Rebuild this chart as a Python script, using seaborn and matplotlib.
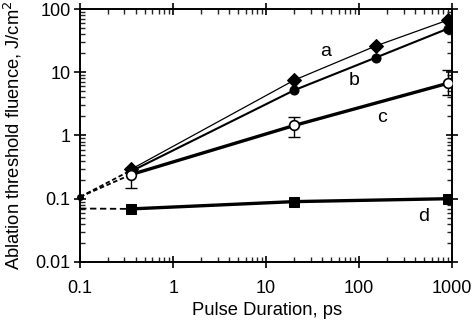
import numpy as np
import pandas as pd
import matplotlib
matplotlib.use("Agg")
import matplotlib.pyplot as plt
from matplotlib.ticker import LogLocator, NullFormatter, FixedLocator, FixedFormatter
import seaborn as sns

# Pulse durations (ps) and ablation threshold fluences (J/cm^2)
pulse_a = [0.35, 20, 150, 900]
fluence_a = [0.29, 7.5, 26, 67]

pulse_b = [0.35, 20, 150, 900]
fluence_b = [0.27, 5.2, 17, 49]

pulse_c = [0.35, 20, 900]
fluence_c = [0.24, 1.44, 6.7]
err_low_c = [0.15, 0.96, 4.3]
err_high_c = [0.31, 1.93, 10.7]

pulse_d = [0.35, 20, 900]
fluence_d = [0.069, 0.09, 0.1]

# Extrapolation towards short pulses
extrap_x = [0.1, 0.35]
extrap_ab = [0.107, 0.28]
extrap_c = [0.107, 0.24]
extrap_d = [0.07, 0.069]

curve_labels = ["a", "b", "c", "d"]
label_x = [44, 88, 177, 488]
label_y = [21.5, 7.5, 1.93, 0.052]

x_ticks = [0.1, 1, 10, 100, 1000]
x_ticklabels = ["0.1", "1", "10", "100", "1000"]
y_ticks = [0.01, 0.1, 1, 10, 100]
y_ticklabels = ["0.01", "0.1", "1", "10", "100"]

sns.set_theme(style="ticks")
plt.rcParams["font.family"] = ["Liberation Sans", "DejaVu Sans"]

fig = plt.figure(figsize=(4.74, 3.23), dpi=100)
ax = fig.add_axes([0.169, 0.189, 0.785, 0.783])

df_a = pd.DataFrame({"x": pulse_a, "y": fluence_a})
df_b = pd.DataFrame({"x": pulse_b, "y": fluence_b})
df_c = pd.DataFrame({"x": pulse_c, "y": fluence_c})
df_d = pd.DataFrame({"x": pulse_d, "y": fluence_d})

# dotted / dashed extrapolations
ax.plot(extrap_x, extrap_ab, color="black", lw=1.3, ls=(0, (2.5, 1.5)), zorder=2)
ax.plot(extrap_x, extrap_c, color="black", lw=1.3, ls=(0, (2.5, 1.5)), zorder=2)
ax.plot(extrap_x, extrap_d, color="black", lw=1.3, ls=(0, (3.5, 2)), zorder=2)
ax.plot([extrap_x[0]], [extrap_ab[0]], marker="o", ms=4, color="black",
        clip_on=False, zorder=4)

sns.lineplot(data=df_a, x="x", y="y", ax=ax, color="black", lw=0.9,
             marker="D", markersize=7, markeredgecolor="black", zorder=3)
sns.lineplot(data=df_b, x="x", y="y", ax=ax, color="black", lw=1.5,
             marker="o", markersize=6.5, markeredgecolor="black", zorder=3)

c_err = [np.array(fluence_c) - np.array(err_low_c),
         np.array(err_high_c) - np.array(fluence_c)]
ax.errorbar(pulse_c, fluence_c, yerr=c_err, fmt="none", ecolor="black",
            elinewidth=1.0, capsize=4.5, capthick=1.0, zorder=2)
sns.lineplot(data=df_c, x="x", y="y", ax=ax, color="black", lw=2.4,
             marker="o", markersize=7, markerfacecolor="white",
             markeredgecolor="black", markeredgewidth=1.2, zorder=4)
sns.lineplot(data=df_d, x="x", y="y", ax=ax, color="black", lw=2.4,
             marker="s", markersize=6.5, markeredgecolor="black", zorder=3)

for lab, lx, ly in zip(curve_labels, label_x, label_y):
    ax.text(lx, ly, lab, fontsize=14, ha="center", va="center", color="black")

ax.set_xscale("log")
ax.set_yscale("log")
ax.set_xlim(0.1, 1000)
ax.set_ylim(0.01, 100)

ax.xaxis.set_major_locator(FixedLocator(x_ticks))
ax.xaxis.set_major_formatter(FixedFormatter(x_ticklabels))
ax.yaxis.set_major_locator(FixedLocator(y_ticks))
ax.yaxis.set_major_formatter(FixedFormatter(y_ticklabels))
ax.xaxis.set_minor_locator(LogLocator(base=10, subs=np.arange(2, 10), numticks=20))
ax.yaxis.set_minor_locator(LogLocator(base=10, subs=np.arange(2, 10), numticks=20))
ax.xaxis.set_minor_formatter(NullFormatter())
ax.yaxis.set_minor_formatter(NullFormatter())

ax.tick_params(which="major", direction="inout", length=8, width=1.2,
               top=True, right=True, labelsize=13, colors="black")
ax.tick_params(axis="x", which="major", pad=9)
ax.tick_params(axis="y", which="major", pad=3)
ax.tick_params(which="minor", direction="in", length=3.5, width=1.0,
               top=True, right=True)
for sp in ax.spines.values():
    sp.set_linewidth(1.4)
    sp.set_color("black")

ax.set_xlabel("Pulse Duration, ps", fontsize=13.2, color="black")
ax.set_ylabel("Ablation threshold fluence, J/cm$^2$", fontsize=13.2, color="black")
ax.xaxis.set_label_coords(0.503, -0.16)
ax.yaxis.set_label_coords(-0.15, 0.5)

fig.savefig("out.png", dpi=100)
